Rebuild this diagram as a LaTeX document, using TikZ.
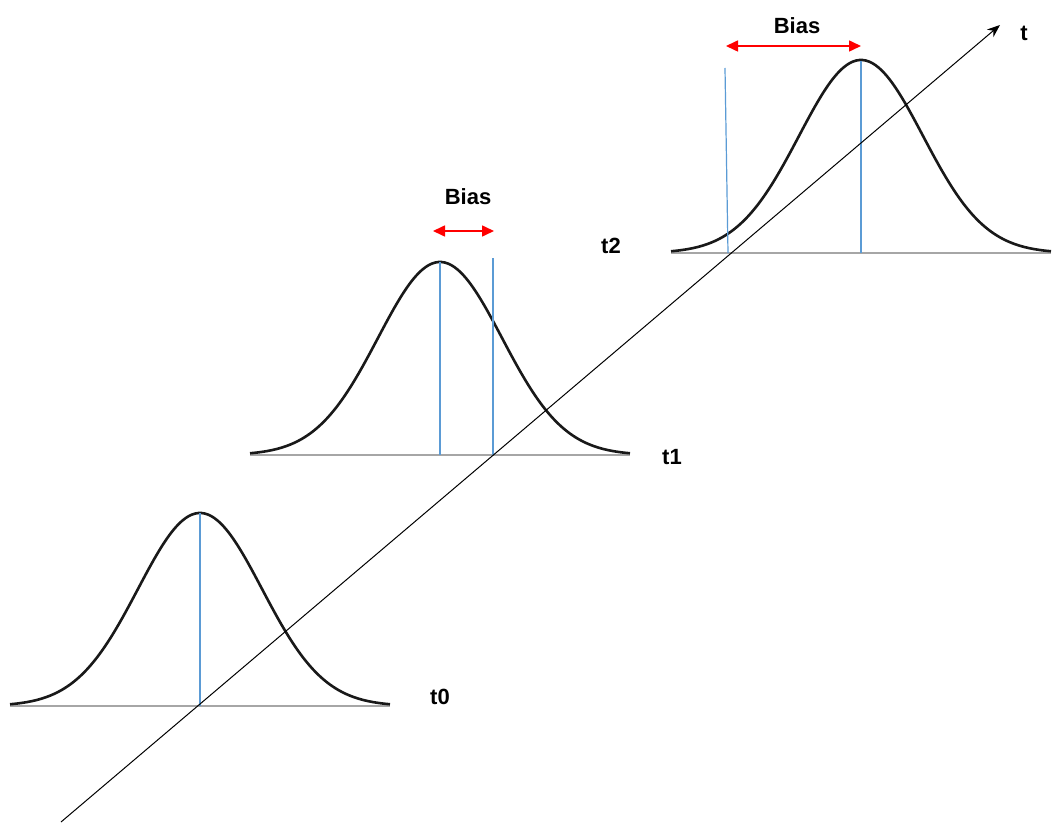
\documentclass[tikz,border=0pt]{standalone}
\usepackage{fontspec}
\setmainfont{Liberation Sans}
\usetikzlibrary{arrows.meta}
\tikzset{
  curve/.style={line width=2.6pt, color=black!90},
  baseline/.style={line width=2pt, color=black!35},
  mean/.style={line width=2pt, color={rgb,255:red,91;green,155;blue,213}},
  thinmean/.style={line width=1.2pt, color={rgb,255:red,91;green,155;blue,213}},
  axis/.style={line width=1pt, black, -{Stealth[length=13pt,width=10pt]}},
  biasarrow/.style={line width=1.6pt, red, {Triangle[length=12pt,width=11pt]}-{Triangle[length=12pt,width=11pt]}},
  lbl/.style={font=\fontsize{22}{26}\selectfont\bfseries, inner sep=0pt}
}
\newcommand{\gausscurve}[2]{%
  \draw[baseline] (#1-190,#2) -- (#1+190,#2);
  \draw[curve] plot[domain=-190:190, samples=120, smooth] ({#1+\x},{#2-193*exp(-0.5*(\x/62)*(\x/62))});
}
\begin{document}
\begin{tikzpicture}[x=1pt,y=-1pt]
\useasboundingbox (0,0) rectangle (1061,824);
% curves
\gausscurve{200}{706}
\gausscurve{440}{455}
\gausscurve{861}{253}
% means
\coordinate (m0top) at (200,513); \coordinate (m0bot) at (200,706);
\coordinate (m1top) at (440,262); \coordinate (m1bot) at (440,455);
\coordinate (m2top) at (861,61);  \coordinate (m2bot) at (861,253);
\draw[mean] (m0top) -- (m0bot);
\draw[mean] (m1top) -- (m1bot);
\draw[mean] (m2top) -- (m2bot);
% true value lines
\coordinate (v1top) at (493,258); \coordinate (v1bot) at (493,455);
\coordinate (v2top) at (725,68);  \coordinate (v2bot) at (728,253);
\draw[thinmean] (v1top) -- (v1bot);
\draw[thinmean] (v2top) -- (v2bot);
% axis
\coordinate (a0) at (61,822);
\coordinate (a1) at (1000,25);
\draw[axis] (a0) -- (a1);
% bias arrows
\coordinate (b1l) at (433,231); \coordinate (b1r) at (494,231);
\coordinate (b2l) at (726,46);  \coordinate (b2r) at (861,46);
\draw[biasarrow] (b1l) -- (b1r);
\draw[biasarrow] (b2l) -- (b2r);
% labels
\node[lbl] (bias1) at (468,197) {Bias};
\node[lbl] (bias2) at (797,26) {Bias};
\node[lbl] (tl) at (1024,33) {t};
\node[lbl] (t2) at (611,246) {t2};
\node[lbl] (t1) at (672,457) {t1};
\node[lbl] (t0) at (440,697) {t0};
\end{tikzpicture}
\end{document}
